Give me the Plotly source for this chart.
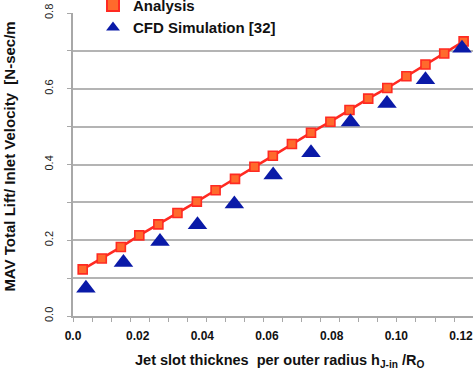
import plotly.graph_objects as go

# Analysis series
analysis_x = [0.0030, 0.0089, 0.0148, 0.0205, 0.0264, 0.0323, 0.0383, 0.0441, 0.0501, 0.0561,
              0.0618, 0.0677, 0.0736, 0.0796, 0.0855, 0.0913, 0.0972, 0.1031, 0.1090, 0.1148, 0.1208]
analysis_y = [0.123, 0.152, 0.182, 0.213, 0.242, 0.272, 0.302, 0.332, 0.362, 0.394,
              0.423, 0.454, 0.484, 0.513, 0.544, 0.574, 0.602, 0.633, 0.664, 0.693, 0.725]

# CFD Simulation [32] series
cfd_x = [0.0040, 0.0156, 0.0269, 0.0385, 0.0499, 0.0619, 0.0736, 0.0858, 0.0971, 0.1090, 0.1203]
cfd_y = [0.073, 0.141, 0.197, 0.241, 0.296, 0.372, 0.431, 0.512, 0.561, 0.624, 0.707]

x_tickvals = [0.0, 0.02, 0.04, 0.06, 0.08, 0.10, 0.12]
x_ticktext = ["0.0", "0.02", "0.04", "0.06", "0.08", "0.10", "0.12"]
y_tickvals = [0.0, 0.2, 0.4, 0.6, 0.8]
y_ticktext = ["0.0", "0.2", "0.4", "0.6", "0.8"]

FONT = "Liberation Sans, Arial, sans-serif"

fig = go.Figure()
fig.add_trace(go.Scatter(
    x=analysis_x, y=analysis_y, mode="lines", showlegend=False,
    line=dict(color="#ff2a22", width=2.6), hoverinfo="skip"))
fig.add_trace(go.Scatter(
    x=analysis_x, y=analysis_y, mode="markers", name="Analysis",
    marker=dict(symbol="square", size=9, color="#ff6a2c",
                line=dict(color="#ff2a22", width=1.6))))
fig.add_trace(go.Scatter(
    x=cfd_x, y=cfd_y, mode="markers", name="CFD Simulation [32]",
    marker=dict(symbol="triangle-up", size=17, color="#0a1aa8",
                line=dict(width=0))))

fig.update_layout(
    width=474, height=372,
    margin=dict(l=73, r=1, t=13, b=56, autoexpand=False),
    paper_bgcolor="white", plot_bgcolor="white",
    font=dict(family=FONT, color="#111111"),
    legend=dict(x=0.05, y=1.08, xanchor="left", yanchor="top",
                bgcolor="rgba(0,0,0,0)",
                font=dict(family=FONT, size=15, color="#111111", weight="bold"),
                itemsizing="constant"),
    annotations=[
        dict(text="MAV Total Lift/ Inlet Velocity\u00a0 [N-sec/m",
             xref="paper", yref="paper", x=-0.1575, y=0.526,
             xanchor="center", yanchor="middle", textangle=-90, showarrow=False,
             font=dict(family=FONT, size=15, color="#111111", weight="bold")),
        dict(text="Jet slot thicknes\u00a0 per outer radius h<sub>J-in</sub> /R<sub>O</sub>",
             xref="paper", yref="paper", x=0.5175, y=-0.1485,
             xanchor="center", yanchor="middle", showarrow=False,
             font=dict(family=FONT, size=14.5, color="#111111", weight="bold")),
    ],
)

fig.update_xaxes(
    range=[0, 0.1237], tickmode="array", tickvals=x_tickvals, ticktext=x_ticktext,
    ticks="", showgrid=False, zeroline=False,
    showline=True, linecolor="#a8a8a8", linewidth=1.5,
    tickfont=dict(family=FONT, size=12, color="#111111", weight="bold"),
    ticklabelstandoff=8,
    minor=dict(ticks="outside", ticklen=4, tickcolor="#a8a8a8", tickwidth=1,
               tick0=0, dtick=0.005892, showgrid=False),
)
fig.update_yaxes(
    range=[0, 0.8], tickmode="array", tickvals=y_tickvals, ticktext=y_ticktext,
    ticks="outside", ticklen=4, tickcolor="#a8a8a8",
    showgrid=True, gridcolor="#b4b4b4", gridwidth=1.5, zeroline=False,
    showline=True, linecolor="#a8a8a8", linewidth=1.5,
    tickangle=-90, ticklabelstandoff=10,
    tickfont=dict(family=FONT, size=11, color="#222222"),
    minor=dict(dtick=0.1, tick0=0, showgrid=True, gridcolor="#b4b4b4", gridwidth=1.5,
               ticks="outside", ticklen=4, tickcolor="#a8a8a8"),
)

fig.write_html("out.html", config={"displayModeBar": False},
               post_script="document.body.style.margin='0';document.body.style.overflow='hidden';")
